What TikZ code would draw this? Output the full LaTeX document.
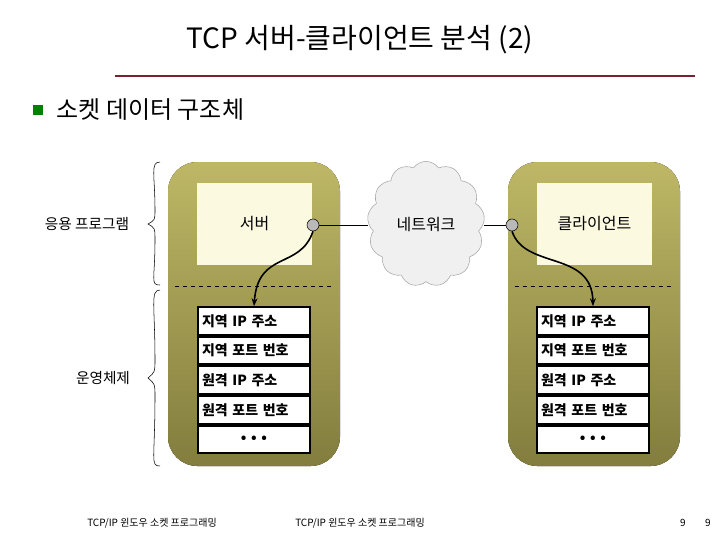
\documentclass[tikz,border=0pt]{standalone}
\usepackage{fontspec}
\newfontfamily\kr{Noto Sans CJK KR}
\usetikzlibrary{shapes.symbols,arrows.meta}
\definecolor{olvT}{HTML}{BDB766}
\definecolor{olvB}{HTML}{837D3E}
\definecolor{boxc}{HTML}{FBF9DF}
\definecolor{rule}{HTML}{7A2030}
\tikzset{
 panel/.style={rounded corners=22, top color=olvT, bottom color=olvB, draw=none},
 appbox/.style={fill=boxc, draw=none, minimum width=86pt, minimum height=62pt, font=\kr\fontsize{12}{12}\selectfont},
 row/.style={draw=black, line width=1.5pt, fill=white, text width=78pt, align=left, minimum height=20.7pt, font=\kr\bfseries\fontsize{10.5}{10}\selectfont, inner xsep=3pt, inner ysep=1pt},
 sock/.style={circle, fill=gray!55, draw=black, inner sep=0pt, minimum size=9pt},
 lbl/.style={font=\kr\fontsize{11}{11}\selectfont},
 foot/.style={font=\kr\fontsize{7.5}{8}\selectfont}
}
\begin{document}
\begin{tikzpicture}[x=0.75pt,y=-0.75pt]
\useasboundingbox (0,0) rectangle (720,540);
\node[font=\kr\fontsize{21}{21}\selectfont] (title) at (360,40) {TCP 서버-클라이언트 분석 (2)};
\draw[rule, line width=2pt] (115,76) -- (695,76);
\node[fill=green!50!black, minimum size=7pt, inner sep=0pt] (bul) at (38,110) {};
\node[anchor=west, font=\kr\fontsize{18}{18}\selectfont] (sub) at (52,110) {소켓 데이터 구조체};
% panels
\fill[panel] (168,162) rectangle (340,466);
\fill[panel] (508,162) rectangle (680,466);
\node[appbox] (srv) at (254.5,224) {서버};
\node[appbox] (cli) at (594.5,224) {클라이언트};
\draw[dashed] (175,286) -- (333,286);
\draw[dashed] (515,286) -- (673,286);
\foreach \x/\p in {254/L,593/R}{
 \node[row] (\p1) at (\x,321) {지역 IP 주소};
 \node[row,anchor=north] (\p2) at (\p1.south) {지역 포트 번호};
 \node[row,anchor=north] (\p3) at (\p2.south) {원격 IP 주소};
 \node[row,anchor=north] (\p4) at (\p3.south) {원격 포트 번호};
 \node[row,anchor=north,align=center] (\p5) at (\p4.south) {• • •};
}
\node[cloud, cloud puffs=13, cloud puff arc=110, aspect=0.95, fill=gray!12, draw=gray!70, minimum width=88pt, minimum height=94pt, font=\kr\fontsize{12}{12}\selectfont] (net) at (426,224) {네트워크};
\node[sock] (s1) at (313,225) {};
\node[sock] (s2) at (512,225) {};
\draw (s1) -- (net.west |- s1);
\draw (net.east |- s2) -- (s2);
\draw[line width=1.2pt,-{Stealth[length=6pt]}] (s1.south) .. controls (300,270) and (258,250) .. (L1.north);
\draw[line width=1.2pt,-{Stealth[length=6pt]}] (s2.south) .. controls (525,270) and (592,250) .. (R1.north);
% braces
\draw (160,162) .. controls (150,162) and (155,175) .. (155,210) .. controls (155,220) .. (148,224) .. controls (155,228) .. (155,240) .. controls (155,280) and (150,285) .. (160,285);
\draw (160,290) .. controls (150,290) and (155,305) .. (155,360) .. controls (155,372) .. (148,378) .. controls (155,384) .. (155,396) .. controls (155,460) and (150,466) .. (160,466);
\node[lbl] (app) at (87,224) {응용 프로그램};
\node[lbl] (os) at (103,378) {운영체제};
\node[foot] (f1) at (152,523) {TCP/IP 윈도우 소켓 프로그래밍};
\node[foot] (f2) at (360,523) {TCP/IP 윈도우 소켓 프로그래밍};
\node[foot] (n1) at (683,523) {9};
\node[foot] (n2) at (708,523) {9};
\end{tikzpicture}
\end{document}
